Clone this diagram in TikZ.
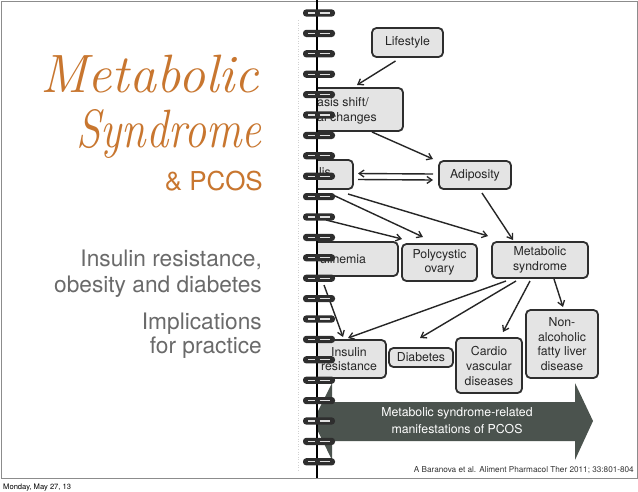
\documentclass[tikz,border=0pt]{standalone}
\usepackage{fontspec}
\usepackage{graphicx}
\usetikzlibrary{arrows.meta}
\newfontfamily\hv{TeX Gyre Heros}
\newfontfamily\lmi{Latin Modern Roman}
\definecolor{orangec}{HTML}{C8762F}
\definecolor{subgray}{HTML}{6A6A6A}
\definecolor{boxfill}{HTML}{E4E4E4}
\definecolor{boxline}{HTML}{2E2E2E}
\definecolor{boxtext}{HTML}{262626}
\definecolor{arrowc}{HTML}{262626}
\definecolor{bigarrow}{HTML}{4B534E}
\definecolor{framec}{HTML}{8C8C8C}
\definecolor{ringdark}{HTML}{2E2E2E}
\begin{document}
\begin{tikzpicture}[x=1pt,y=-1pt,
  box/.style={draw=boxline, fill=boxfill, rounded corners=4.5pt, line width=1.8pt,
    inner sep=0pt, outer sep=0pt, anchor=north west},
  btext/.style={font=\hv\fontsize{12.3}{14.5}\selectfont, text=boxtext, align=center, inner sep=0pt},
  arr/.style={-{Straight Barb[length=5pt,width=7pt,line width=1.3pt]}, line width=1.4pt, draw=arrowc},
  subt/.style={font=\hv\fontsize{22.7}{25}\selectfont, text=subgray, anchor=base east, inner sep=0pt},
  title/.style={font=\lmi\itshape\fontsize{54}{60}\selectfont, text=orangec, inner sep=0pt}]
\useasboundingbox (0,0) rectangle (638,491);
\fill[white] (0,0) rectangle (638,491);
\draw[framec, line width=0.8pt] (1,1) rectangle (637,478);
\draw[gray!35, dotted, line width=0.6pt] (298,20) -- (298,470);

% titles
\node[title, anchor=base west] (t1) at (40,92) {Metabolic};
\node[title, anchor=base east] (t2) at (262,147) {\scalebox{0.82}[1]{Syndrome}};
\node[font=\hv\fontsize{26}{30}\selectfont, text=orangec, anchor=base east, inner sep=0pt] (t3) at (263,190) {\& PCOS};
\node[subt] (s1) at (262,266) {Insulin resistance,};
\node[subt] (s2) at (262,292) {obesity and diabetes};
\node[subt] (s3) at (262,329) {Implications};
\node[subt] (s4) at (262,353) {for practice};
\node[font=\hv\fontsize{7.6}{9}\selectfont, anchor=base west, inner sep=0pt] (date) at (3,489) {Monday, May 27, 13};

% diagram (clipped at the page edge)
\begin{scope}
\clip (317.5,0) rectangle (638,478);
\fill[bigarrow] (313,421) -- (332,383) -- (332,402) -- (575,402) -- (575,383) -- (593,421)
  -- (575,460) -- (575,441) -- (332,441) -- (332,460) -- cycle;
\node[font=\hv\fontsize{12.3}{17}\selectfont, text=white, align=center, inner sep=0pt] (bigtxt) at (457,421)
  {Metabolic syndrome-related\\manifestations of PCOS};

\node[box, minimum width=71pt, minimum height=29pt] (life) at (372,28) {};
\node[btext] at (life.center) {Lifestyle};
\node[box, minimum width=103pt, minimum height=43pt] (asis) at (300,88) {};
\node[btext, anchor=base west] (asis1) at (317,106) {asis shift/};
\node[btext, anchor=base west] (asis2) at (317,121) {al changes};
\node[box, minimum width=53pt, minimum height=29pt] (lis) at (300,160) {};
\node[btext, anchor=base west] (listxt) at (319,176) {lis};
\node[box, minimum width=72pt, minimum height=28pt] (adip) at (439,161) {};
\node[btext] at (adip.center) {Adiposity};
\node[box, minimum width=98pt, minimum height=34pt] (hyper) at (300,242) {};
\node[btext, anchor=base west] (hypertxt) at (320,263) {ulinemia};
\node[box, minimum width=75pt, minimum height=37pt] (poly) at (402,244) {};
\node[btext] at (poly.center) {Polycystic\\ovary};
\node[box, minimum width=96pt, minimum height=36pt] (meta) at (492,242) {};
\node[btext] at (meta.center) {Metabolic\\syndrome};
\node[box, minimum width=86pt, minimum height=38pt] (insr) at (300,340) {};
\node[btext] (insrtxt) at (349,359) {Insulin\\resistance};
\node[box, minimum width=64pt, minimum height=19pt] (diab) at (389,348) {};
\node[btext] at (diab.center) {Diabetes};
\node[box, minimum width=66pt, minimum height=55pt] (cvd) at (456,338) {};
\node[btext, font=\hv\fontsize{12.3}{15}\selectfont] at (cvd.center) {Cardio\\vascular\\diseases};
\node[box, minimum width=72pt, minimum height=68pt] (nafl) at (526,310) {};
\node[btext, font=\hv\fontsize{12.3}{14.6}\selectfont] at (nafl.center) {Non-\\alcoholic\\fatty liver\\disease};

\coordinate (cstart) at (326,220);

\draw[arr] ([xshift=-12pt,yshift=-4pt]life.south) -- ([xshift=5.5pt,yshift=3pt]asis.north);
\draw[arr] ([xshift=-31pt,yshift=-1pt]asis.south east) -- ([xshift=-6pt,yshift=2pt]adip.north west);
\draw[arr] ([xshift=-6pt,yshift=1pt]adip.west) -- ([xshift=5pt,yshift=1pt]lis.east);
\draw[arr] ([xshift=5pt,yshift=-5pt]lis.east) -- ([xshift=-6pt,yshift=-5pt]adip.west);
\draw[arr] ([xshift=6.5pt,yshift=-6pt]lis.south) -- ([xshift=-16.5pt,yshift=7pt]poly.north);
\draw[arr] ([xshift=-5pt,yshift=-5pt]lis.south east) -- ([xshift=-4pt,yshift=6pt]meta.north west);
\draw[arr] (cstart) -- ([yshift=5pt]poly.north west);
\draw[arr] ([xshift=7pt,yshift=-4pt]adip.south) -- ([xshift=-27pt,yshift=2pt]meta.north);
\draw[arr] ([xshift=24pt,yshift=-9pt]hyper.south west) -- ([xshift=43pt,yshift=3pt]insr.north west);
\draw[arr] ([xshift=-34pt,yshift=-3pt]meta.south) -- ([xshift=-38pt,yshift=2pt]insr.north east);
\draw[arr] ([xshift=-24pt,yshift=-3pt]meta.south) -- ([xshift=-1pt,yshift=10pt]diab.north);
\draw[arr] ([xshift=-10pt,yshift=-3pt]meta.south) -- ([xshift=14pt,yshift=6pt]cvd.north);
\draw[arr] ([xshift=14pt,yshift=-1pt]meta.south) -- ([xshift=1pt,yshift=3pt]nafl.north);
\end{scope}

\node[font=\hv\fontsize{8.2}{10}\selectfont, text=black!80, anchor=base east, inner sep=0pt] (cite) at (634,472)
  {A Baranova et al. Aliment Pharmacol Ther 2011; 33:801-804};

% spiral binding
\draw[black, line width=2.6pt] (317,0) -- (317,478);
\foreach \i in {0,...,22} {
  \pgfmathsetmacro{\yy}{13+20.4*\i}
  \fill[ringdark, rounded corners=3.2pt] (303,\yy-3.6) rectangle (335,\yy+3.6);
  \draw[white!75!gray, line width=1.3pt] (308,\yy) -- (314.5,\yy);
  \draw[white!75!gray, line width=1.3pt] (319.5,\yy) -- (330,\yy);
}
\end{tikzpicture}
\end{document}
